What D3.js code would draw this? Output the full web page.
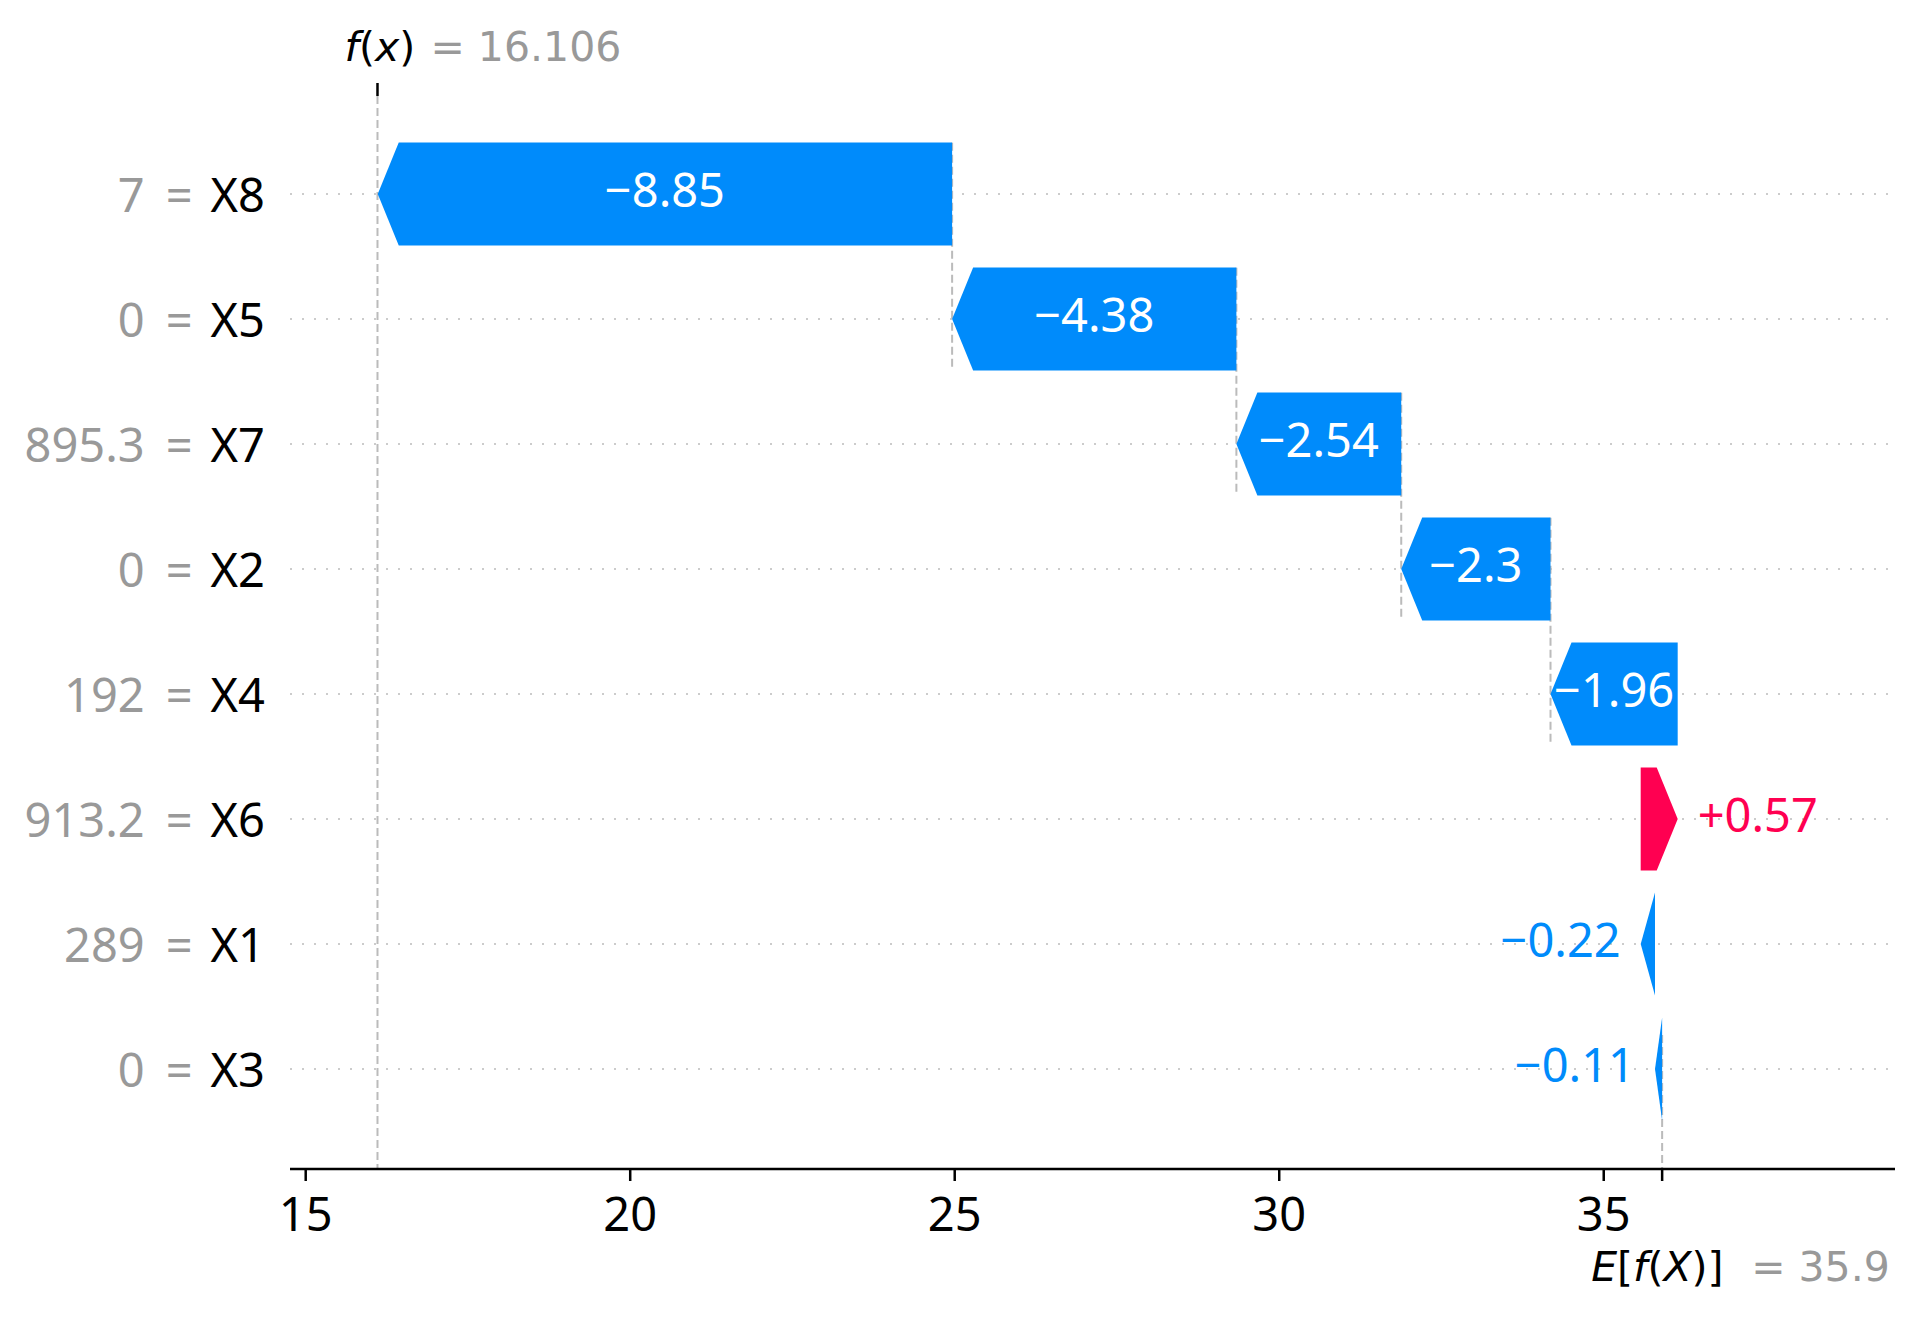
<!DOCTYPE html>
<html><head><meta charset="utf-8">
<script src="https://cdn.jsdelivr.net/npm/d3@7"></script>
<style>body{margin:0;background:#fff} text{white-space:pre}</style>
</head><body>
<svg id="c" width="1920" height="1320" xmlns="http://www.w3.org/2000/svg"></svg>
<script>
// ---- data ----
const features = ["X8","X5","X7","X2","X4","X6","X1","X3"];
const featureValues = ["7","0","895.3","0","192","913.2","289","0"];
const shapValues = [-8.85,-4.38,-2.54,-2.3,-1.96,0.57,-0.22,-0.11];
const baseValue = 35.9;
const baseLabel = "35.9";
const fxValue = 16.106;
const fxLabel = "16.106";
const xTicks = [15,20,25,30,35];

// ---- setup ----
const svg = d3.select("#c");
const BLUE = "#008bfb", RED = "#ff0051", GRAY = "#999999";
const FONT = "'Noto Sans', 'Open Sans', sans-serif";
const MATH = "'DejaVu Sans', sans-serif";
const x = d3.scaleLinear().domain([14.758, 39.488]).range([290, 1895]);
const y = d3.scaleLinear().domain([0, features.length - 1]).range([194, 1069]);
const axTop = 96, axBottom = 1169;
const rowH = y(1) - y(0);
const barH = rowH * 0.824;
const headLen = 21;

// chain from base value upward
let cur = baseValue;
const bars = [];
for (let i = features.length - 1; i >= 0; i--) {
  const v = shapValues[i];
  bars[i] = {i, v, start: cur, end: cur + v};
  cur += v;
}

function fmt(v) {
  let s = Math.abs(v).toFixed(2).replace(/0+$/, "").replace(/\.$/, "");
  return (v < 0 ? "\u2212" : "+") + s;
}

// gridlines
svg.append("g").selectAll("line").data(features).join("line")
  .attr("x1", x.range()[0]).attr("x2", x.range()[1])
  .attr("y1", (d, i) => y(i)).attr("y2", (d, i) => y(i))
  .attr("stroke", "#cccccc").attr("stroke-width", 2)
  .attr("stroke-dasharray", "2,10");

// dashed vertical lines
const dash = svg.append("g").attr("stroke", "#bbbbbb").attr("stroke-width", 2)
  .attr("stroke-dasharray", "8,4").attr("fill", "none");
dash.append("line").attr("x1", x(fxValue)).attr("x2", x(fxValue))
  .attr("y1", axTop).attr("y2", axBottom);
dash.append("line").attr("x1", x(baseValue)).attr("x2", x(baseValue))
  .attr("y1", axBottom - (axBottom - axTop) / features.length).attr("y2", axBottom);
dash.selectAll("line.conn").data(bars.filter(d => d.i + 4 < features.length)).join("line")
  .attr("class", "conn")
  .attr("x1", d => x(d.start)).attr("x2", d => x(d.start))
  .attr("y1", d => y(d.i) - 0.41 * rowH).attr("y2", d => y(d.i + 1) + 0.41 * rowH);

// bars (arrows)
svg.append("g").selectAll("path").data(bars).join("path")
  .attr("fill", d => d.v < 0 ? BLUE : RED)
  .attr("d", d => {
    const x0 = x(d.start), x1 = x(d.end), dir = Math.sign(x1 - x0);
    const len = Math.abs(x1 - x0), hl = Math.min(headLen, len);
    const neck = x1 - dir * hl;
    const t = y(d.i) - barH / 2, b = y(d.i) + barH / 2, c = y(d.i);
    return `M${x0},${t}L${neck},${t}L${x1},${c}L${neck},${b}L${x0},${b}Z`;
  });

// bar labels
const bl = svg.append("g").attr("font-family", FONT).attr("font-size", 47);
bars.forEach(d => {
  const x0 = x(d.start), x1 = x(d.end);
  const len = Math.abs(x1 - x0);
  const t = bl.append("text").text(fmt(d.v))
    .attr("x", (x0 + x1) / 2).attr("y", y(d.i) + 13)
    .attr("text-anchor", "middle").attr("fill", "#fff");
  const w = t.node().getComputedTextLength();
  if (w > len) {
    if (d.v < 0) t.attr("x", x1 - 20).attr("text-anchor", "end").attr("fill", BLUE);
    else t.attr("x", x1 + 20).attr("text-anchor", "start").attr("fill", RED);
  }
});

// y labels: "value = name"
const yl = svg.append("g").attr("font-family", FONT).attr("font-size", 47);
features.forEach((f, i) => {
  const yy = y(i) + 18;
  const n = yl.append("text").attr("x", 265).attr("y", yy).attr("text-anchor", "end")
    .attr("fill", "#000").text(f);
  const nx = 265 - n.node().getComputedTextLength() - 18;
  const e = yl.append("text").attr("x", nx).attr("y", yy).attr("text-anchor", "end")
    .attr("fill", GRAY).text("=");
  const ex = nx - e.node().getComputedTextLength() - 21;
  yl.append("text").attr("x", ex).attr("y", yy).attr("text-anchor", "end")
    .attr("fill", GRAY).text(featureValues[i]);
});

// bottom axis
const ax = svg.append("g");
ax.append("line").attr("x1", x.range()[0]).attr("x2", x.range()[1])
  .attr("y1", axBottom).attr("y2", axBottom).attr("stroke", "#000").attr("stroke-width", 2.5);
ax.selectAll("line.tk").data(xTicks.concat([baseValue])).join("line").attr("class", "tk")
  .attr("x1", d => x(d)).attr("x2", d => x(d))
  .attr("y1", axBottom).attr("y2", axBottom + 12).attr("stroke", "#000").attr("stroke-width", 2.5);
ax.selectAll("text").data(xTicks).join("text")
  .attr("x", d => x(d)).attr("y", 1231).attr("text-anchor", "middle")
  .attr("font-family", FONT).attr("font-size", 47).attr("fill", "#000").text(d => d);

// top tick f(x)
svg.append("line").attr("x1", x(fxValue)).attr("x2", x(fxValue))
  .attr("y1", axTop - 13).attr("y2", axTop).attr("stroke", "#000").attr("stroke-width", 2.5);

function mathText(g, parts, xx, yy) {
  const t = g.append("text").attr("x", xx).attr("y", yy)
    .attr("font-family", MATH).attr("font-size", 41).attr("fill", "#000");
  parts.forEach(([s, it]) => t.append("tspan").attr("font-style", it ? "italic" : "normal").text(s));
  return t;
}
mathText(svg, [["f",1],["(",0],["x",1],[")",0]], x(fxValue) - 33, 61);
svg.append("text").attr("x", x(fxValue) + 53).attr("y", 61)
  .attr("font-family", MATH).attr("font-size", 41).attr("fill", GRAY).text("= " + fxLabel);

mathText(svg, [["E",1],["[",0],["f",1],["(",0],["X",1],[")",0],["]",0]], x(baseValue) - 71, 1281);
svg.append("text").attr("x", x(baseValue) + 89).attr("y", 1281)
  .attr("font-family", MATH).attr("font-size", 41).attr("fill", GRAY).text("= " + baseLabel);
</script>
</body></html>
